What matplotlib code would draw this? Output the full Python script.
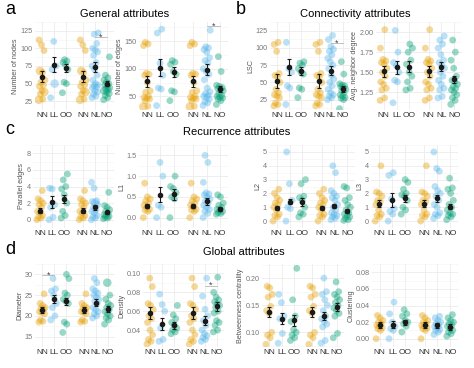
import numpy as np
import matplotlib
matplotlib.use('Agg')
import matplotlib.pyplot as plt

plt.rcParams['font.family'] = ['Liberation Sans', 'DejaVu Sans']

groups = ['NN', 'LL', 'OO', 'NN', 'NL', 'NO']
xpos = [1, 2, 3, 4.5, 5.5, 6.5]
colors = {'NN': '#E69F00', 'LL': '#56B4E9', 'NL': '#56B4E9', 'OO': '#009E73', 'NO': '#009E73'}

# ---- data (per panel: points per group, mean, error) ----
nodes = dict(NN=[112, 105, 97, 68, 68, 66, 55, 52, 48, 46, 40, 38, 38, 35, 28, 27, 27],
             LL=[110, 75, 70, 50, 50, 30],
             OO=[84, 82, 80, 77, 70, 52, 50, 37],
             NL=[122, 120, 107, 100, 98, 95, 90, 80, 75, 70, 62, 55, 50, 48, 47, 45, 44, 40, 38, 35, 32, 30],
             NO=[88, 62, 58, 55, 52, 50, 48, 46, 44, 42, 41, 40, 40, 38, 36, 33, 30, 27])
nodes_mean = [60, 77, 72, 60, 73, 50]
nodes_err = [8, 11, 6, 8, 7, 4]

edges = dict(NN=[148, 145, 142, 92, 90, 88, 75, 60, 57, 50, 48, 46, 45, 42, 32, 31, 31],
             LL=[172, 165, 110, 88, 65, 63, 33],
             OO=[115, 112, 108, 95, 90, 60, 58, 42],
             NL=[170, 140, 138, 135, 130, 120, 115, 110, 100, 95, 90, 80, 65, 58, 55, 52, 50, 48, 45, 40, 38, 33],
             NO=[122, 95, 70, 68, 66, 64, 62, 60, 55, 52, 50, 48, 47, 45, 42, 35])
edges_mean = [77, 102, 94, 77, 98, 63]
edges_err = [10, 16, 9, 10, 10, 5]

lsc = dict(NN=[108, 105, 95, 63, 60, 58, 50, 40, 35, 32, 30, 28, 20, 18, 16],
           LL=[108, 70, 65, 45, 42, 18],
           OO=[80, 78, 75, 70, 65, 62, 42, 40, 28],
           NL=[118, 112, 102, 98, 95, 90, 85, 80, 75, 70, 60, 55, 50, 45, 40, 35, 32, 30, 28, 25],
           NO=[80, 62, 48, 46, 45, 44, 42, 40, 38, 35, 32, 30, 28, 27, 25, 12])
lsc_mean = [52, 72, 66, 52, 67, 40]
lsc_err = [10, 12, 6, 10, 7, 4.5]

nbr = dict(NN=[2.03, 1.80, 1.66, 1.64, 1.62, 1.60, 1.55, 1.50, 1.45, 1.38, 1.35, 1.30, 1.28, 1.18, 1.15],
           LL=[2.02, 1.75, 1.62, 1.58, 1.50, 1.40, 1.38, 1.12],
           OO=[1.85, 1.80, 1.75, 1.65, 1.60, 1.50, 1.45, 1.38, 1.30, 1.28],
           NL=[1.95, 1.90, 1.85, 1.80, 1.72, 1.65, 1.62, 1.58, 1.55, 1.50, 1.45, 1.40, 1.35, 1.30, 1.28, 1.20, 1.18],
           NO=[1.90, 1.75, 1.65, 1.55, 1.45, 1.40, 1.38, 1.35, 1.32, 1.30, 1.28, 1.25, 1.22, 1.18, 1.15, 1.10])
nbr_mean = [1.51, 1.56, 1.57, 1.51, 1.57, 1.41]
nbr_err = [0.065, 0.085, 0.07, 0.065, 0.055, 0.04]

par = dict(NN=[3.5, 2.5, 2.3, 2.0, 1.8, 1.5, 1.0, 0.8, 0.5, 0.3, 0.2, 0.0],
           LL=[3.8, 3.7, 1.8, 1.5, 0.3, 0.0],
           OO=[5.5, 4.8, 4.0, 3.7, 3.0, 2.0, 1.0, 0.5, 0.2],
           NL=[4.5, 3.8, 2.3, 2.2, 2.0, 2.0, 1.8, 1.5, 1.2, 1.0, 0.8, 0.5, 0.3, 0.2, 0.0],
           NO=[3.3, 1.7, 1.5, 1.2, 1.0, 0.8, 0.6, 0.5, 0.4, 0.3, 0.2, 0.1])
par_mean = [1.1, 2.1, 2.5, 1.1, 1.5, 0.9]
par_err = [0.25, 0.75, 0.5, 0.25, 0.28, 0.2]

l1 = dict(NN=[0.83, 0.50, 0.45, 0.40, 0.35, 0.30, 0.25, 0.20, 0.18, 0.15, 0.0],
          LL=[1.33, 1.0, 0.3, 0.25, 0.0],
          OO=[1.0, 0.75, 0.7, 0.6, 0.5, 0.45, 0.0],
          NL=[1.5, 1.33, 0.85, 0.6, 0.57, 0.55, 0.5, 0.45, 0.4, 0.35, 0.3, 0.25, 0.2, 0.15, 0.1, 0.0],
          NO=[0.55, 0.5, 0.35, 0.3, 0.25, 0.2, 0.18, 0.15, 0.12, 0.1, 0.08])
l1_mean = [0.28, 0.55, 0.56, 0.28, 0.39, 0.21]
l1_err = [0.06, 0.18, 0.14, 0.06, 0.08, 0.05]

l2 = dict(NN=[2.3, 2.0, 1.7, 1.5, 1.3, 1.2, 1.0, 0.8, 0.5, 0.4, 0.3, 0.0],
          LL=[5.0, 2.7, 1.5, 1.0, 0.9, 0.0],
          OO=[3.0, 2.7, 1.8, 1.7, 1.5, 1.0, 0.6, 0.5, 0.3],
          NL=[4.0, 3.5, 2.2, 2.0, 1.8, 1.7, 1.5, 1.2, 1.0, 0.8, 0.6, 0.5, 0.4, 0.3, 0.2, 0.1],
          NO=[2.5, 2.4, 1.7, 1.5, 1.2, 1.0, 0.8, 0.6, 0.5, 0.4, 0.3, 0.2, 0.1, 0.05])
l2_mean = [0.95, 1.4, 1.4, 0.95, 1.1, 0.75]
l2_err = [0.15, 0.2, 0.3, 0.15, 0.15, 0.15]

l3 = dict(NN=[4.0, 2.1, 2.0, 1.8, 1.5, 1.4, 1.2, 0.8, 0.5, 0.4, 0.3, 0.0],
          LL=[3.5, 3.3, 1.6, 0.9, 0.7, 0.5, 0.0],
          OO=[3.0, 2.8, 2.3, 2.0, 1.9, 1.8, 1.5, 1.0, 0.8, 0.5],
          NL=[5.0, 3.8, 3.6, 2.5, 2.2, 2.0, 1.8, 1.5, 1.2, 1.0, 0.6, 0.5, 0.4, 0.2],
          NO=[3.1, 2.4, 2.3, 2.0, 1.5, 1.2, 1.0, 0.8, 0.6, 0.5, 0.4, 0.3, 0.1])
l3_mean = [1.25, 1.5, 1.65, 1.25, 1.65, 1.05]
l3_err = [0.25, 0.5, 0.25, 0.25, 0.25, 0.15]

diam = dict(NN=[25.3, 23.0, 22.5, 22.0, 21.8, 21.5, 21.0, 20.8, 20.5, 19.0, 18.7, 18.5],
            LL=[29.0, 26.5, 26.0, 25.0, 23.0, 22.0, 20.0, 19.0],
            OO=[30.0, 29.0, 25.5, 25.0, 24.0, 23.5, 23.0, 18.5, 18.0, 16.0],
            NL=[29.0, 28.0, 26.5, 26.0, 25.5, 25.0, 24.5, 24.0, 23.5, 23.0, 22.0, 21.5, 21.0, 20.5, 20.0, 19.5],
            NO=[28.0, 28.0, 25.0, 24.0, 23.0, 22.5, 22.0, 21.5, 21.0, 20.5, 20.0, 19.5, 19.0, 18.0])
diam_mean = [21.5, 24.1, 23.5, 21.5, 23.2, 21.7]
diam_err = [0.75, 1.0, 0.8, 0.75, 0.75, 0.7]

dens = dict(NN=[0.095, 0.086, 0.068, 0.066, 0.062, 0.055, 0.052, 0.048, 0.040, 0.035, 0.030, 0.028, 0.025],
            LL=[0.078, 0.067, 0.060, 0.042, 0.030, 0.028],
            OO=[0.066, 0.056, 0.052, 0.048, 0.045, 0.042, 0.040, 0.038, 0.036],
            NL=[0.095, 0.076, 0.062, 0.055, 0.050, 0.045, 0.040, 0.036, 0.034, 0.032, 0.030, 0.028],
            NO=[0.096, 0.080, 0.075, 0.072, 0.070, 0.068, 0.066, 0.064, 0.060, 0.058, 0.050, 0.048, 0.045, 0.040, 0.038])
dens_mean = [0.058, 0.046, 0.045, 0.058, 0.050, 0.065]
dens_err = [0.006, 0.0065, 0.0035, 0.006, 0.005, 0.005]

betw = dict(NN=[0.185, 0.182, 0.170, 0.165, 0.148, 0.140, 0.135, 0.100, 0.095, 0.090, 0.078],
            LL=[0.170, 0.155, 0.130, 0.125, 0.098, 0.080],
            OO=[0.218, 0.160, 0.130, 0.120, 0.105, 0.100, 0.095, 0.090, 0.085],
            NL=[0.200, 0.175, 0.170, 0.160, 0.150, 0.140, 0.130, 0.125, 0.120, 0.115, 0.110, 0.085, 0.080],
            NO=[0.193, 0.175, 0.170, 0.165, 0.160, 0.155, 0.150, 0.145, 0.140, 0.135, 0.130, 0.098, 0.090])
betw_mean = [0.137, 0.125, 0.122, 0.137, 0.130, 0.147]
betw_err = [0.009, 0.01, 0.01, 0.009, 0.008, 0.0075]

clus = dict(NN=[0.028, 0.025, 0.022, 0.020, 0.018, 0.016, 0.015, 0.013, 0.012, 0.010, 0.0],
            LL=[0.044, 0.030, 0.020, 0.015, 0.012, 0.010, 0.0],
            OO=[0.035, 0.030, 0.027, 0.022, 0.020, 0.018, 0.015, 0.008],
            NL=[0.027, 0.025, 0.022, 0.020, 0.018, 0.016, 0.015, 0.013, 0.011, 0.010, 0.008, 0.005],
            NO=[0.029, 0.025, 0.022, 0.020, 0.018, 0.016, 0.015, 0.012, 0.010, 0.008, 0.006, 0.003])
clus_mean = [0.0165, 0.017, 0.020, 0.0165, 0.016, 0.0145]
clus_err = [0.0035, 0.004, 0.003, 0.0035, 0.003, 0.0035]


def draw(rect, data, mean, err, ylabel, yticks, yticklabels, ylim, sig=None):
    ax = fig.add_axes(rect)
    for gi, (g, x0) in enumerate(zip(groups, xpos)):
        vals, counts = np.unique(np.array(data[g]), return_counts=True)
        offs = ((np.arange(len(vals)) * 0.618) % 1 - 0.5) * 0.55
        ax.scatter(x0 + offs, vals, s=10 + 14 * counts, color=colors[g], alpha=0.4,
                   linewidths=0, zorder=2)
        ax.errorbar(x0, mean[gi], yerr=err[gi], fmt='o', color='#1a1a1a', ms=3.0,
                    capsize=1.2, elinewidth=0.8, capthick=0.8, zorder=3)
    if sig:
        x1, x2, ys = sig
        ax.plot([x1, x2], [ys, ys], color='#aaaaaa', lw=0.5, zorder=1)
        ax.text((x1 + x2) / 2, ys, '*', ha='center', va='center', fontsize=6.5, color='#444444')
    ax.set_xlim(0.4, 7.1)
    ax.set_ylim(*ylim)
    ax.set_xticks(xpos)
    ax.set_xticklabels(groups, fontsize=6, color='#333333')
    ax.set_yticks(yticks)
    ax.set_yticklabels(yticklabels, fontsize=5.2, color='#777777')
    step = yticks[1] - yticks[0]
    ax.set_yticks(np.arange(yticks[0] - step / 2, yticks[-1] + step, step), minor=True)
    ax.set_ylabel(ylabel, fontsize=5.2, color='#555555', labelpad=1)
    ax.tick_params(length=0, pad=1.5)
    ax.tick_params(which='minor', length=0)
    ax.grid(True, which='major', color='#EBEBEB', lw=0.6)
    ax.grid(True, which='minor', axis='y', color='#F3F3F3', lw=0.4)
    ax.set_axisbelow(True)
    for s in ax.spines.values():
        s.set_visible(False)
    return ax


W, H = 474, 368
def rect(x0, x1, ytop, ybot):
    return [x0 / W, 1 - ybot / H, (x1 - x0) / W, (ybot - ytop) / H]

fig = plt.figure(figsize=(4.74, 3.68), dpi=100)

# row a / b
draw(rect(35, 114, 22, 110), nodes, nodes_mean, nodes_err, 'Number of nodes',
     [25, 50, 75, 100, 125], ['25', '50', '75', '100', '125'], (22, 128), (5.5, 6.5, 116))
draw(rect(139, 228, 22, 110), edges, edges_mean, edges_err, 'Number of edges',
     [50, 100, 150], ['50', '100', '150'], (25, 185), (5.5, 6.5, 177))
draw(rect(270, 350, 22, 110), lsc, lsc_mean, lsc_err, 'LSC',
     [25, 50, 75, 100, 125], ['25', '50', '75', '100', '125'], (10, 128), (5.5, 6.5, 107))
draw(rect(376, 462, 22, 110), nbr, nbr_mean, nbr_err, 'Avg. neighbor degree',
     [1.25, 1.5, 1.75, 2.0], ['1.25', '1.50', '1.75', '2.00'], (1.03, 2.12))

# row c
draw(rect(33, 114, 145, 228), par, par_mean, par_err, 'Parallel edges',
     [0, 2, 4, 6, 8], ['0', '2', '4', '6', '8'], (-0.4, 8.4))
draw(rect(139, 228, 145, 228), l1, l1_mean, l1_err, 'L1',
     [0, 0.5, 1.0, 1.5], ['0.0', '0.5', '1.0', '1.5'], (-0.09, 1.64))
draw(rect(269, 355, 145, 228), l2, l2_mean, l2_err, 'L2',
     [0, 1, 2, 3, 4, 5], ['0', '1', '2', '3', '4', '5'], (-0.3, 5.35))
draw(rect(371, 458, 145, 228), l3, l3_mean, l3_err, 'L3',
     [0, 1, 2, 3, 4, 5], ['0', '1', '2', '3', '4', '5'], (-0.3, 5.35))

# row d
draw(rect(35, 115, 264, 347), diam, diam_mean, diam_err, 'Diameter',
     [15, 20, 25, 30], ['15', '20', '25', '30'], (14.8, 31.3), (1, 2, 29.9))
draw(rect(143, 224, 264, 347), dens, dens_mean, dens_err, 'Density',
     [0.04, 0.06, 0.08, 0.10], ['0.04', '0.06', '0.08', '0.10'], (0.022, 0.104), (5.5, 6.5, 0.087))
draw(rect(262, 344, 264, 347), betw, betw_mean, betw_err, 'Betweenness centrality',
     [0.10, 0.15, 0.20], ['0.10', '0.15', '0.20'], (0.073, 0.226))
draw(rect(372, 458, 264, 347), clus, clus_mean, clus_err, 'Clustering',
     [0, 0.02, 0.04, 0.06, 0.08], ['0.00', '0.02', '0.04', '0.06', '0.08'], (-0.003, 0.086))

# panel letters and titles
for letter, x, y in [('a', 10, 10), ('b', 241, 10), ('c', 10, 130), ('d', 10, 250)]:
    fig.text(x / W, 1 - y / H, letter, fontsize=13, va='center', ha='center')
for title, x, y in [('General attributes', 125, 14), ('Connectivity attributes', 355, 14),
                    ('Recurrence attributes', 237, 132), ('Global attributes', 244, 252)]:
    fig.text(x / W, 1 - y / H, title, fontsize=8, va='center', ha='center')

fig.savefig('out.png', dpi=100)
